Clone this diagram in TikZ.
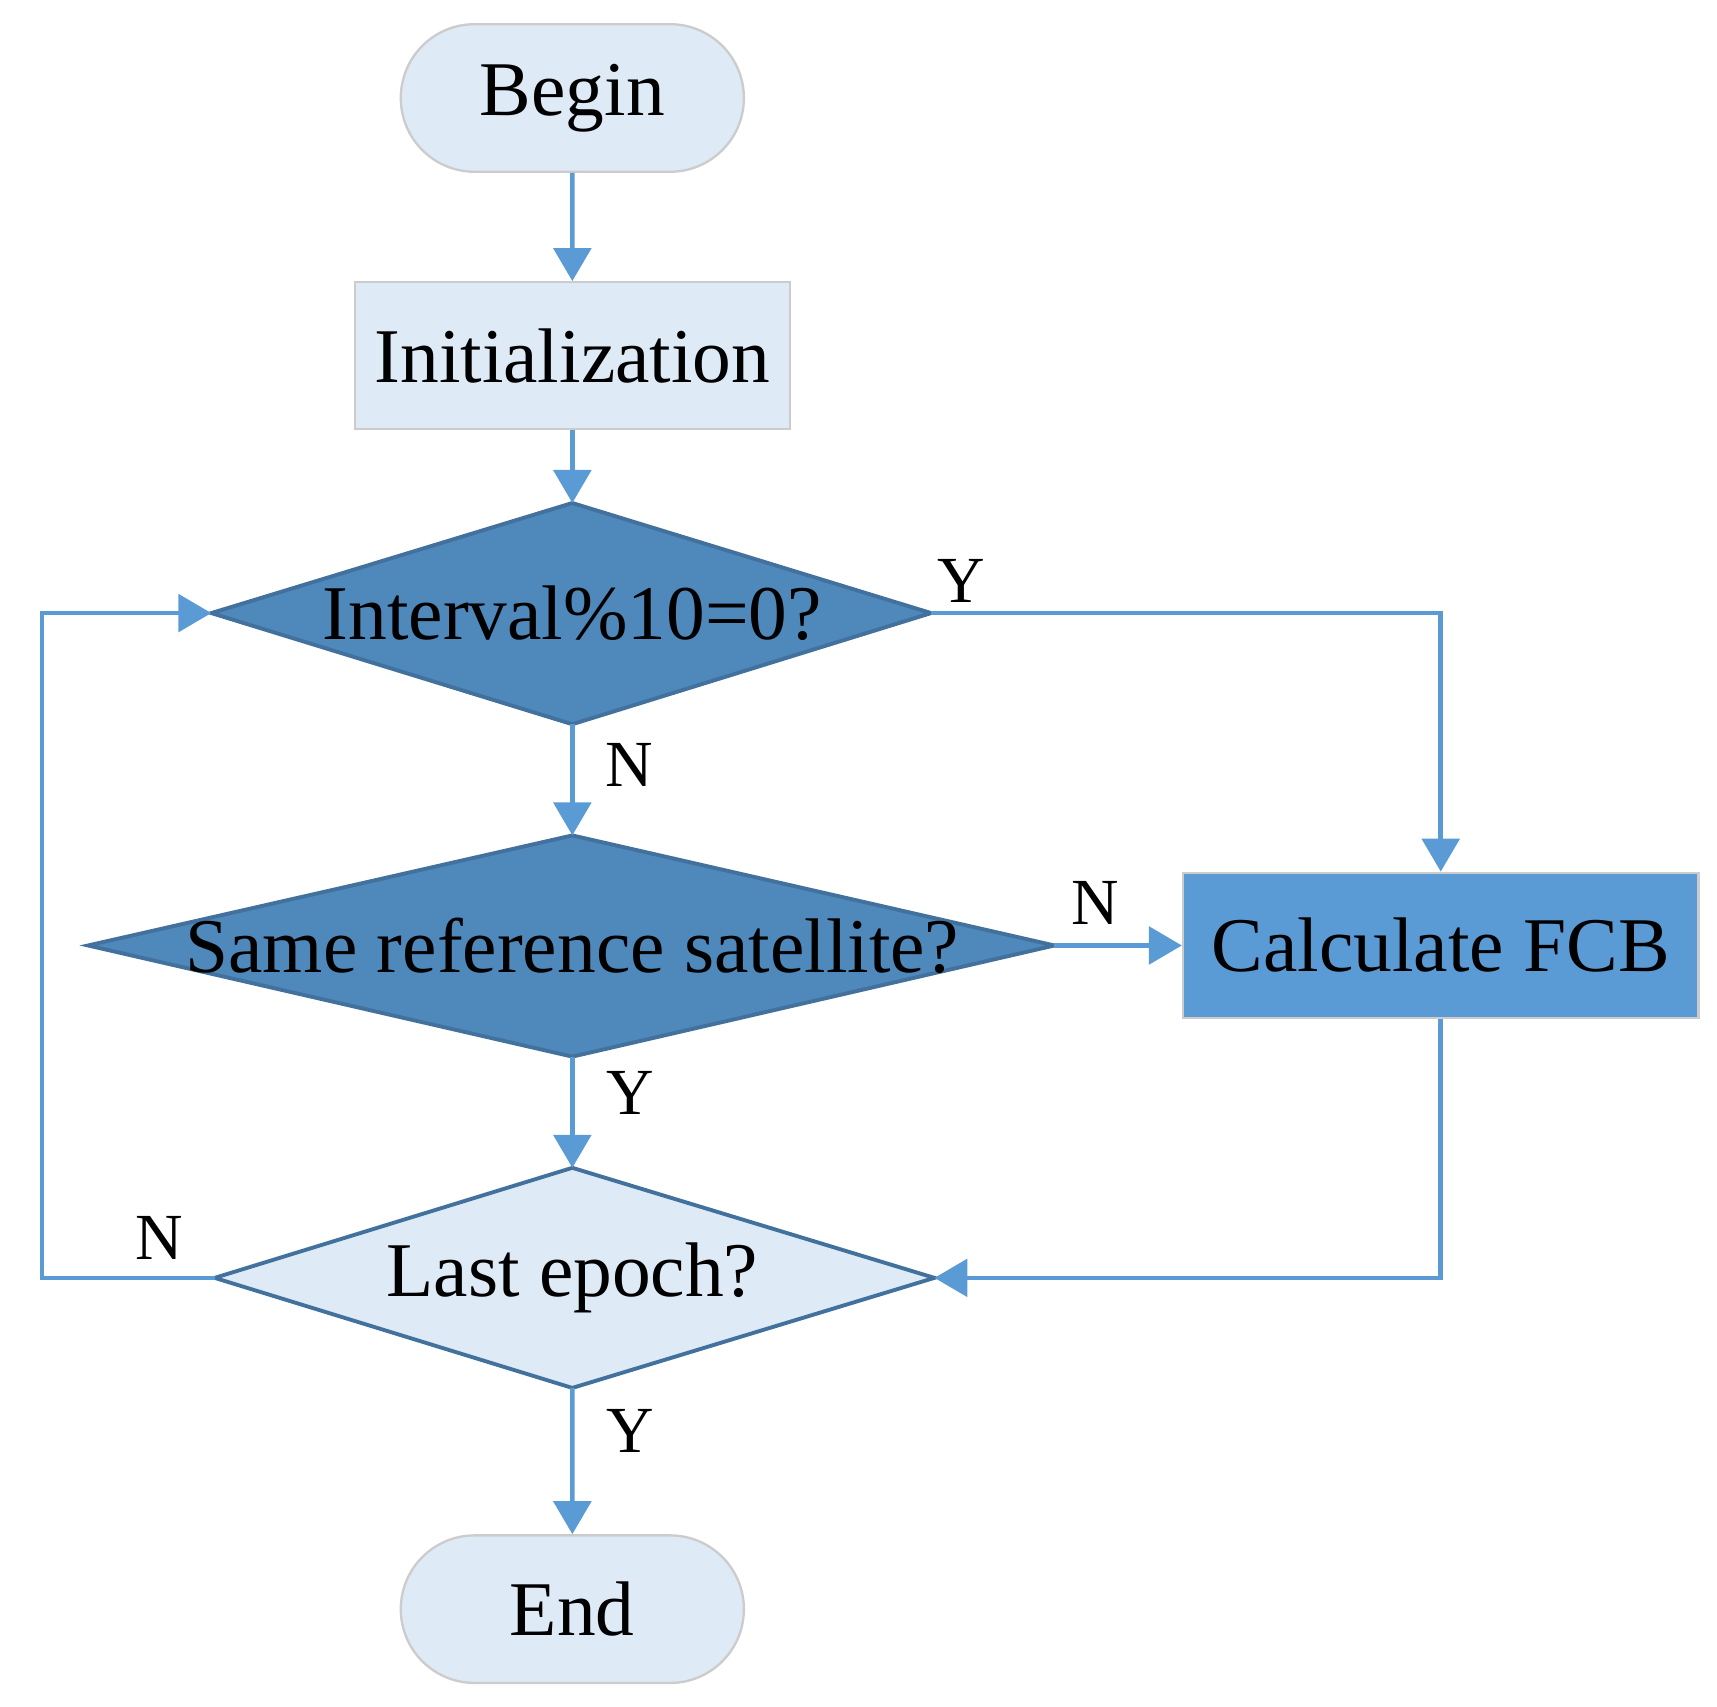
\documentclass[tikz,border=0pt]{standalone}
\usepackage{fontspec}
\setmainfont{Liberation Serif}
\usetikzlibrary{arrows.meta,shapes.misc}
\definecolor{lt}{HTML}{DEEAF6}
\definecolor{dk}{HTML}{4F88BB}
\definecolor{dkb}{HTML}{41719C}
\definecolor{ln}{HTML}{5B9BD5}
\begin{document}
\begin{tikzpicture}[x=0.01cm,y=-0.01cm,
  txt/.style={font=\fontsize{20}{24}\selectfont},
  lab/.style={font=\fontsize{17}{20}\selectfont},
  arr/.style={draw=ln,line width=1.2pt,-{Triangle[length=0.3cm,width=0.34cm]}},
  con/.style={draw=ln,line width=1.2pt},
  term/.style={rounded rectangle,fill=lt,draw=black!20,line width=0.6pt,minimum width=3.35cm,minimum height=1.34cm,txt},
  box/.style={rectangle,draw=black!20,line width=0.6pt,txt}]
\useasboundingbox (0,0) rectangle (1560,1550);
\node[term] (b) at (520,89) {Begin};
\node[box,fill=lt,minimum width=3.95cm,minimum height=1.33cm] (i) at (520,323) {Initialization};
\coordinate (d1l) at (192,557); \coordinate (d1r) at (846,557);
\coordinate (d1t) at (520,457); \coordinate (d1b) at (520,658);
\fill[dk,draw=dkb,line width=1pt] (d1l)--(d1t)--(d1r)--(d1b)--cycle;
\node[txt] (d1) at (520,557) {Interval\%10=0?};
\coordinate (d2l) at (80,859); \coordinate (d2r) at (958,859);
\coordinate (d2t) at (520,759); \coordinate (d2b) at (520,960);
\fill[dk,draw=dkb,line width=1pt] (d2l)--(d2t)--(d2r)--(d2b)--cycle;
\node[txt] (d2) at (520,859) {Same reference satellite?};
\coordinate (d3l) at (195,1161); \coordinate (d3r) at (849,1161);
\coordinate (d3t) at (520,1061); \coordinate (d3b) at (520,1261);
\fill[lt,draw=dkb,line width=1pt] (d3l)--(d3t)--(d3r)--(d3b)--cycle;
\node[txt] (d3) at (520,1161) {Last epoch?};
\node[box,fill=ln,minimum width=4.68cm,minimum height=1.32cm] (c) at (1309,859) {Calculate FCB};
\node[term] (e) at (520,1462) {End};
\draw[arr] (b) -- (i);
\draw[arr] (i) -- (d1t);
\draw[arr] (d1b) -- (d2t);
\draw[arr] (d2b) -- (d3t);
\draw[arr] (d3b) -- (e);
\draw[arr] (d1r) -| (c);
\draw[arr] (d2r) -- (c);
\draw[arr] (c) |- (d3r);
\coordinate (lp1) at (38,1161); \coordinate (lp2) at (38,557);
\draw[arr] (d3l) -- (lp1) -- (lp2) -- (d1l);
\node[lab] at (873,528) {Y};
\node[lab] at (572,695) {N};
\node[lab] at (995,820) {N};
\node[lab] at (573,993) {Y};
\node[lab] at (145,1125) {N};
\node[lab] at (573,1300) {Y};
\end{tikzpicture}
\end{document}
